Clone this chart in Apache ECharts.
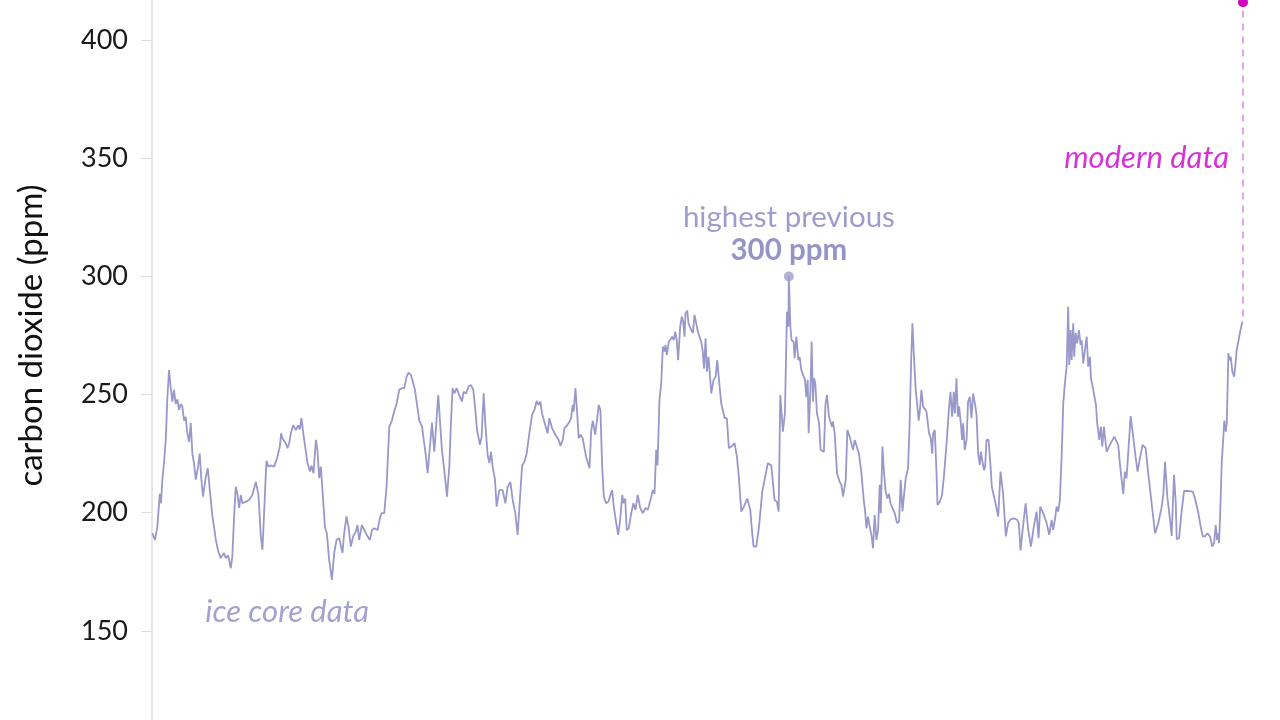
<!DOCTYPE html>
<html>
<head>
<meta charset="utf-8">
<script src="https://cdn.jsdelivr.net/npm/echarts@6/dist/echarts.min.js"></script>
<style>
html,body{margin:0;padding:0;background:#fff;overflow:hidden;width:1280px;height:720px;position:relative;}
#chart{position:absolute;left:0;top:-78px;width:1280px;height:827px;}
</style>
</head>
<body>
<div id="chart"></div>
<script>
// Ages in thousands of years relative to today (negative = past), CO2 in ppm
const iceAges = [
-799.8,-797.8,-796.1,-794.3,-793.4,-792.4,-791.2,-789.9,-788.8,-787.5,-786.3,-785.1,-783.9,-782.6,-781.4,-780.2,-778.9,-777.8,-776.5,-775.3,
-774.1,-772.8,-771.6,-770.4,-769.2,-767.9,-766.2,-765.0,-763.8,-762.6,-760.6,-759.1,-757.6,-755.7,-754.5,-753.2,-751.6,-749.6,-747.2,-745.9,
-744.2,-742.2,-741.1,-739.8,-738.6,-737.4,-736.1,-734.9,-733.7,-731.2,-728.8,-726.4,-723.9,-722.0,-720.2,-719.0,-717.8,-716.1,-714.6,-712.9,
-710.5,-708.0,-706.3,-705.3,-704.4,-703.1,-701.9,-700.7,-699.4,-698.2,-696.5,-694.5,-692.8,-691.6,-690.4,-689.2,-687.7,-686.0,-684.2,-683.1,
-681.6,-679.8,-678.7,-677.4,-676.2,-675.0,-673.2,-671.8,-670.1,-668.1,-666.4,-664.7,-662.7,-661.5,-660.3,-659.1,-657.4,-655.9,-654.2,-652.5,
-650.5,-649.3,-648.1,-646.1,-644.4,-642.0,-640.2,-638.7,-637.0,-634.6,-632.9,-631.7,-629.7,-628.0,-626.0,-624.1,-622.4,-620.7,-618.7,-616.7,
-615.0,-613.3,-611.9,-610.1,-608.9,-607.2,-605.7,-604.0,-602.0,-600.4,-599.1,-597.9,-596.7,-594.7,-593.0,-590.1,-587.4,-585.7,-583.7,-582.0,
-580.8,-579.6,-578.3,-576.6,-575.2,-573.9,-572.7,-571.5,-569.7,-567.8,-566.1,-564.4,-562.9,-561.7,-559.5,-558.3,-556.8,-555.6,-553.9,-552.6,
-551.4,-550.2,-548.5,-547.3,-545.3,-542.9,-540.9,-539.2,-537.2,-535.5,-533.6,-531.9,-530.1,-528.6,-526.9,-525.3,-523.3,-521.3,-519.6,-517.9,
-516.5,-515.2,-514.0,-512.3,-511.0,-509.9,-508.6,-506.6,-504.2,-501.8,-500.5,-498.8,-497.6,-495.6,-493.9,-492.7,-491.5,-490.8,-489.5,-488.3,
-487.1,-485.8,-484.2,-482.9,-481.7,-480.5,-479.2,-478.0,-476.8,-475.0,-473.9,-472.4,-471.2,-469.9,-468.7,-467.0,-465.3,-463.8,-462.6,-461.4,
-459.6,-458.2,-456.7,-455.2,-454.3,-453.0,-451.9,-450.4,-448.6,-447.0,-445.5,-443.8,-442.0,-440.1,-438.1,-436.4,-435.2,-433.9,-432.8,-431.5,
-430.3,-429.3,-427.9,-426.6,-425.4,-424.2,-423.5,-422.5,-421.0,-419.8,-418.5,-417.4,-416.4,-415.2,-414.2,-412.7,-411.5,-410.5,-409.5,-408.8,
-407.5,-406.6,-405.8,-404.6,-403.4,-402.2,-400.9,-399.7,-398.5,-397.3,-396.3,-395.2,-394.1,-393.1,-391.9,-389.9,-388.2,-386.7,-385.5,-383.8,
-382.6,-381.4,-380.1,-378.5,-377.0,-375.2,-372.8,-371.1,-369.7,-367.9,-366.0,-363.5,-361.3,-360.1,-358.9,-356.9,-354.9,-352.5,-351.3,-348.4,
-345.9,-343.5,-341.8,-340.5,-339.3,-337.4,-335.9,-334.4,-333.4,-333.0,-331.9,-331.0,-329.5,-328.8,-327.5,-326.1,-325.1,-323.9,-322.7,-321.2,
-320.2,-319.2,-318.5,-317.2,-316.3,-315.3,-314.6,-313.6,-312.4,-310.9,-309.7,-308.4,-307.3,-306.2,-305.1,-303.6,-302.4,-301.4,-300.7,-299.4,
-297.7,-295.7,-294.5,-293.3,-292.6,-291.3,-290.1,-288.4,-287.1,-286.0,-284.7,-283.5,-281.6,-279.8,-278.1,-277.2,-276.1,-275.0,-273.7,-272.5,
-271.3,-270.1,-268.8,-267.6,-266.4,-265.6,-264.4,-263.2,-262.0,-260.7,-259.6,-258.5,-257.1,-255.4,-253.7,-252.2,-251.0,-249.7,-248.5,-247.3,
-245.6,-244.4,-243.4,-242.4,-241.4,-240.0,-239.0,-237.8,-236.8,-235.8,-234.6,-232.1,-230.9,-230.2,-228.9,-227.9,-227.2,-226.0,-224.8,-224.0,
-222.3,-220.7,-219.2,-218.2,-217.0,-215.7,-214.5,-213.3,-212.1,-211.3,-210.1,-209.1,-208.2,-206.9,-206.0,-205.2,-204.0,-202.7,-201.6,-200.3,
-199.1,-197.9,-196.4,-195.4,-194.2,-193.0,-192.2,-191.0,-190.0,-189.1,-188.1,-186.6,-185.1,-184.2,-182.0,-179.5,-177.8,-175.9,-173.9,-172.2,
-170.2,-167.8,-165.6,-164.4,-163.1,-161.6,-159.4,-157.5,-155.5,-153.4,-151.4,-149.9,-148.7,-146.5,-144.0,-142.1,-140.3,-139.2,-137.9,-136.7,
-135.5,-134.3,-133.0,-131.8,-130.6,-129.3,-128.2,-127.4,-126.4,-125.7,-124.5,-123.8,-122.7,-121.6,-120.3,-119.1,-118.3,-117.1,-115.9,-114.6,
-113.5,-112.2,-111.5,-109.8,-107.8,-106.9,-105.4,-104.2,-103.2,-102.0,-100.0,-97.6,-94.4,-91.5,-90.3,-89.0,-87.8,-86.6,-85.4,-84.2,
-82.4,-80.5,-78.8,-77.3,-75.6,-73.6,-71.4,-69.5,-67.0,-64.5,-62.1,-59.6,-58.4,-57.2,-55.5,-53.5,-52.3,-50.6,-49.3,-48.6,
-46.9,-44.9,-43.2,-40.1,-36.8,-35.2,-32.7,-31.0,-29.5,-27.8,-26.1,-24.2,-22.5,-21.2,-20.0,-19.0,-18.3,-17.6,-16.8,-15.6,
-14.4,-13.7,-12.6,-11.9,-10.7,-10.0,-9.0,-7.8,-6.5,-5.8,-4.6,-3.4,-2.1,-1.1,-0.4,0
];
const iceCo2 = [
191.3,188.5,194,208,204,214,221,231,248,260.4,253,247,252,246,248,243.5,246,245,239,240.6,
233.6,230,238,225,221,214,219.5,225,214,206.8,215,218.8,209.6,198.4,194,188.5,184,180.8,182.9,180.8,
182,176.5,181.4,198.4,211,208,202,207.5,204,204.7,205.4,207.5,213,208,190,184.3,199.8,222,219.5,220,
219.5,223.7,228,233.6,231.5,232,229.4,227.3,229.4,233.6,237,235,237,235.3,240,234.3,228,221,217.4,220,
216.7,230.8,226.6,214.6,219.5,209.6,194,191.3,180,171.6,182.9,188.5,189.2,188.5,183,191.3,198.4,194,185.7,190,
192,194.8,188.5,194.8,192.7,190,188.5,192.7,193.4,192.7,197.6,199.8,199.8,211,236.4,239,242.8,246,252,252.7,
252.7,257.6,259.3,258.3,259,252,246,239,236.4,229.4,223.7,216.7,216.7,238,225.8,249.8,226.6,218,206.8,219.5,
238,252.7,250.5,252.7,250.5,251.2,247,251.2,250.5,253.4,254,252,243.5,235,228.7,232.2,250.5,238,224.5,221,
225.8,219.5,214,202.6,209.6,209.6,204,211,213,205.4,199.8,190.6,206.8,220,221.6,225,233.6,241.4,243.5,247.3,
245.6,247,242,238.5,239,233.6,240,235.7,233,230.8,228.3,230.8,235.7,237,238.5,240,245.6,242.8,252.7,242.8,
231.5,233,231.5,230.8,223.7,223,218.8,234.3,239,233,233.6,245.6,243.5,219.5,206.8,204,204.7,207.5,209.6,202.6,
195.6,190.6,197,207.5,204,206,192.7,193.4,199.8,204,201.2,207.5,202,199.8,202,201.2,200.5,206.8,209.6,208,
226.6,220,247.7,254.8,270.3,268.2,271,266.8,272.4,273,274.5,273,276.6,273,264.6,278.7,283,280.9,274.5,284.4,
285.5,280.2,280.9,277.3,276,283.7,283.7,276.6,276,272.4,268.9,261,273.8,259.7,266,250.5,256.2,257.6,264.6,253.4,
246.3,246.3,240,240,227.3,228,229.4,223.7,215.3,200.5,202.6,206,201.2,192.7,185.7,185.7,194,208.9,209.6,221,
220,205.4,204.7,200.5,249.8,234.3,242,285,278.7,300,278.7,273,272.4,265.4,274.5,264.6,266,260.4,260.4,256.2,
249,256.2,233.6,252,272.4,247,256.9,254.8,242,238,226.6,226.6,225.8,245.6,249.8,240.6,240,236.4,238.5,233.6,
216.7,213,211.8,206.8,206,213.9,235,232.2,231.5,226.6,230.8,231.5,225,216.7,205.4,201.2,193.4,198.4,194,190.6,
185,199,188.5,192.7,211.8,199.8,228,216.7,208.9,206,208,204,204,199.8,195.6,196.2,213.9,200.5,208,214.6,
218.8,239,263.2,280.2,267.5,252,246.3,239,244.2,252,245,242.8,242,233.6,231.5,225,233.6,235,218,203.3,
204.7,207.5,216,215.3,232.2,243.5,251.2,240.6,251.2,242,256.9,240.6,245,237.8,230.8,237.8,226.6,230.8,247,249,
240,250.5,245.6,241.4,225,220.2,225.8,221.6,218,219.5,230.8,230.8,219.5,211,205.4,198.4,217.4,208,190,195.6,
197.3,197.6,197,195.6,184,192.7,204,192.7,185.7,194,200.5,189.2,202.6,199.8,195.6,190.6,197,192.7,197,202.6,
200.5,205.4,223.7,246.3,254.8,261.8,287.2,262.5,277.3,264.6,280.2,266,276,271.7,277.3,271,273,263.2,268.9,274.5,
261.8,266,256.9,252,245.6,237.8,230.8,236.4,228,236.4,225.8,228.7,232.2,228.7,221,214,208,217.4,214.6,225,
240.9,232.2,223.7,217.4,223,228.7,227.3,216.7,204,191.3,195.6,202.6,208,221.6,206.8,197,190.2,216,204,188.8,
189.2,201.2,209.2,209.2,208.9,206,199.8,194,190,190,191.3,190,185.7,187.1,194.8,188.5,191.3,187.1,198.4,221,
232.2,239,234.3,238,267.5,264.6,266,259.7,257.6,261.2,268.9,272.4,276.6,276,280.9,281
];
const modernAges = [0, 0];
const modernCo2 = [283, 416];
const peakPrevious = [-333.0, 300];
const yTicks = [150, 200, 250, 300, 350, 400];
const labels = {
  ice: { text: 'ice core data', at: [-700.9, 158] },
  modern: { text: 'modern data', at: [0, 350] }
};

const FONT = 'Lato';
const LAV = '#9898cb';
const chart = echarts.init(document.getElementById('chart'), null, { renderer: 'canvas' });
const iceData = iceAges.map((a, i) => [a, iceCo2[i]]);
const modernData = modernAges.map((a, i) => ({
  value: [a, modernCo2[i]],
  symbol: i === modernAges.length - 1 ? 'circle' : 'none'
}));

chart.setOption({
  animation: false,
  backgroundColor: '#ffffff',
  grid: { left: 152, right: 37, top: 0, bottom: 0, containLabel: false },
  xAxis: {
    type: 'value', min: -800, max: 0, show: false
  },
  yAxis: {
    type: 'value', min: 100, max: 450, interval: 50,
    name: 'carbon dioxide (ppm)',
    nameLocation: 'middle',
    nameGap: 104,
    nameRotate: 90,
    nameTextStyle: { fontFamily: FONT, fontSize: 33, color: '#111111' },
    axisLine: { show: true, onZero: false, lineStyle: { color: '#dcdcdc', width: 1.5 } },
    axisTick: { show: true, length: 11, lineStyle: { color: '#dcdcdc', width: 1 } },
    axisLabel: {
      margin: 24, fontFamily: FONT, fontSize: 27, color: '#1a1a1a',
      formatter: v => (yTicks.indexOf(v) >= 0 ? String(v) : '')
    },
    splitLine: { show: false }
  },
  series: [
    {
      type: 'line', name: 'ice core', data: iceData, showSymbol: false,
      lineStyle: { color: LAV, width: 1.8 }, z: 2
    },
    {
      type: 'line', name: 'modern', data: modernData,
      symbolSize: 10, itemStyle: { color: '#cc00bb' },
      lineStyle: { color: '#e38be3', width: 1.6, type: [7, 6] }, z: 3
    },
    {
      type: 'scatter', name: 'peak', data: [peakPrevious], symbolSize: 10,
      itemStyle: { color: '#9d9dcc' }, z: 4,
      label: {
        show: true, position: 'top', distance: 4, align: 'center',
        formatter: '{a|highest previous}\n{b|300 ppm}',
        rich: {
          a: { fontFamily: FONT, fontSize: 29.5, color: '#8585c0', lineHeight: 33, align: 'center' },
          b: { fontFamily: FONT, fontSize: 29.5, fontWeight: 'bold', color: '#7a7ab6', lineHeight: 33, align: 'center' }
        }
      }
    },
    {
      type: 'scatter', name: 'labels', symbolSize: 0, silent: true,
      data: [
        { value: labels.ice.at, label: { show: true, position: 'inside', formatter: labels.ice.text,
          fontFamily: FONT, fontStyle: 'italic', fontSize: 31, color: '#8b8bc4' } },
        { value: labels.modern.at, label: { show: true, position: 'left', distance: 14, formatter: labels.modern.text,
          fontFamily: FONT, fontStyle: 'italic', fontSize: 31, color: '#cc00cc' } }
      ]
    }
  ]
});
</script>
</body>
</html>
